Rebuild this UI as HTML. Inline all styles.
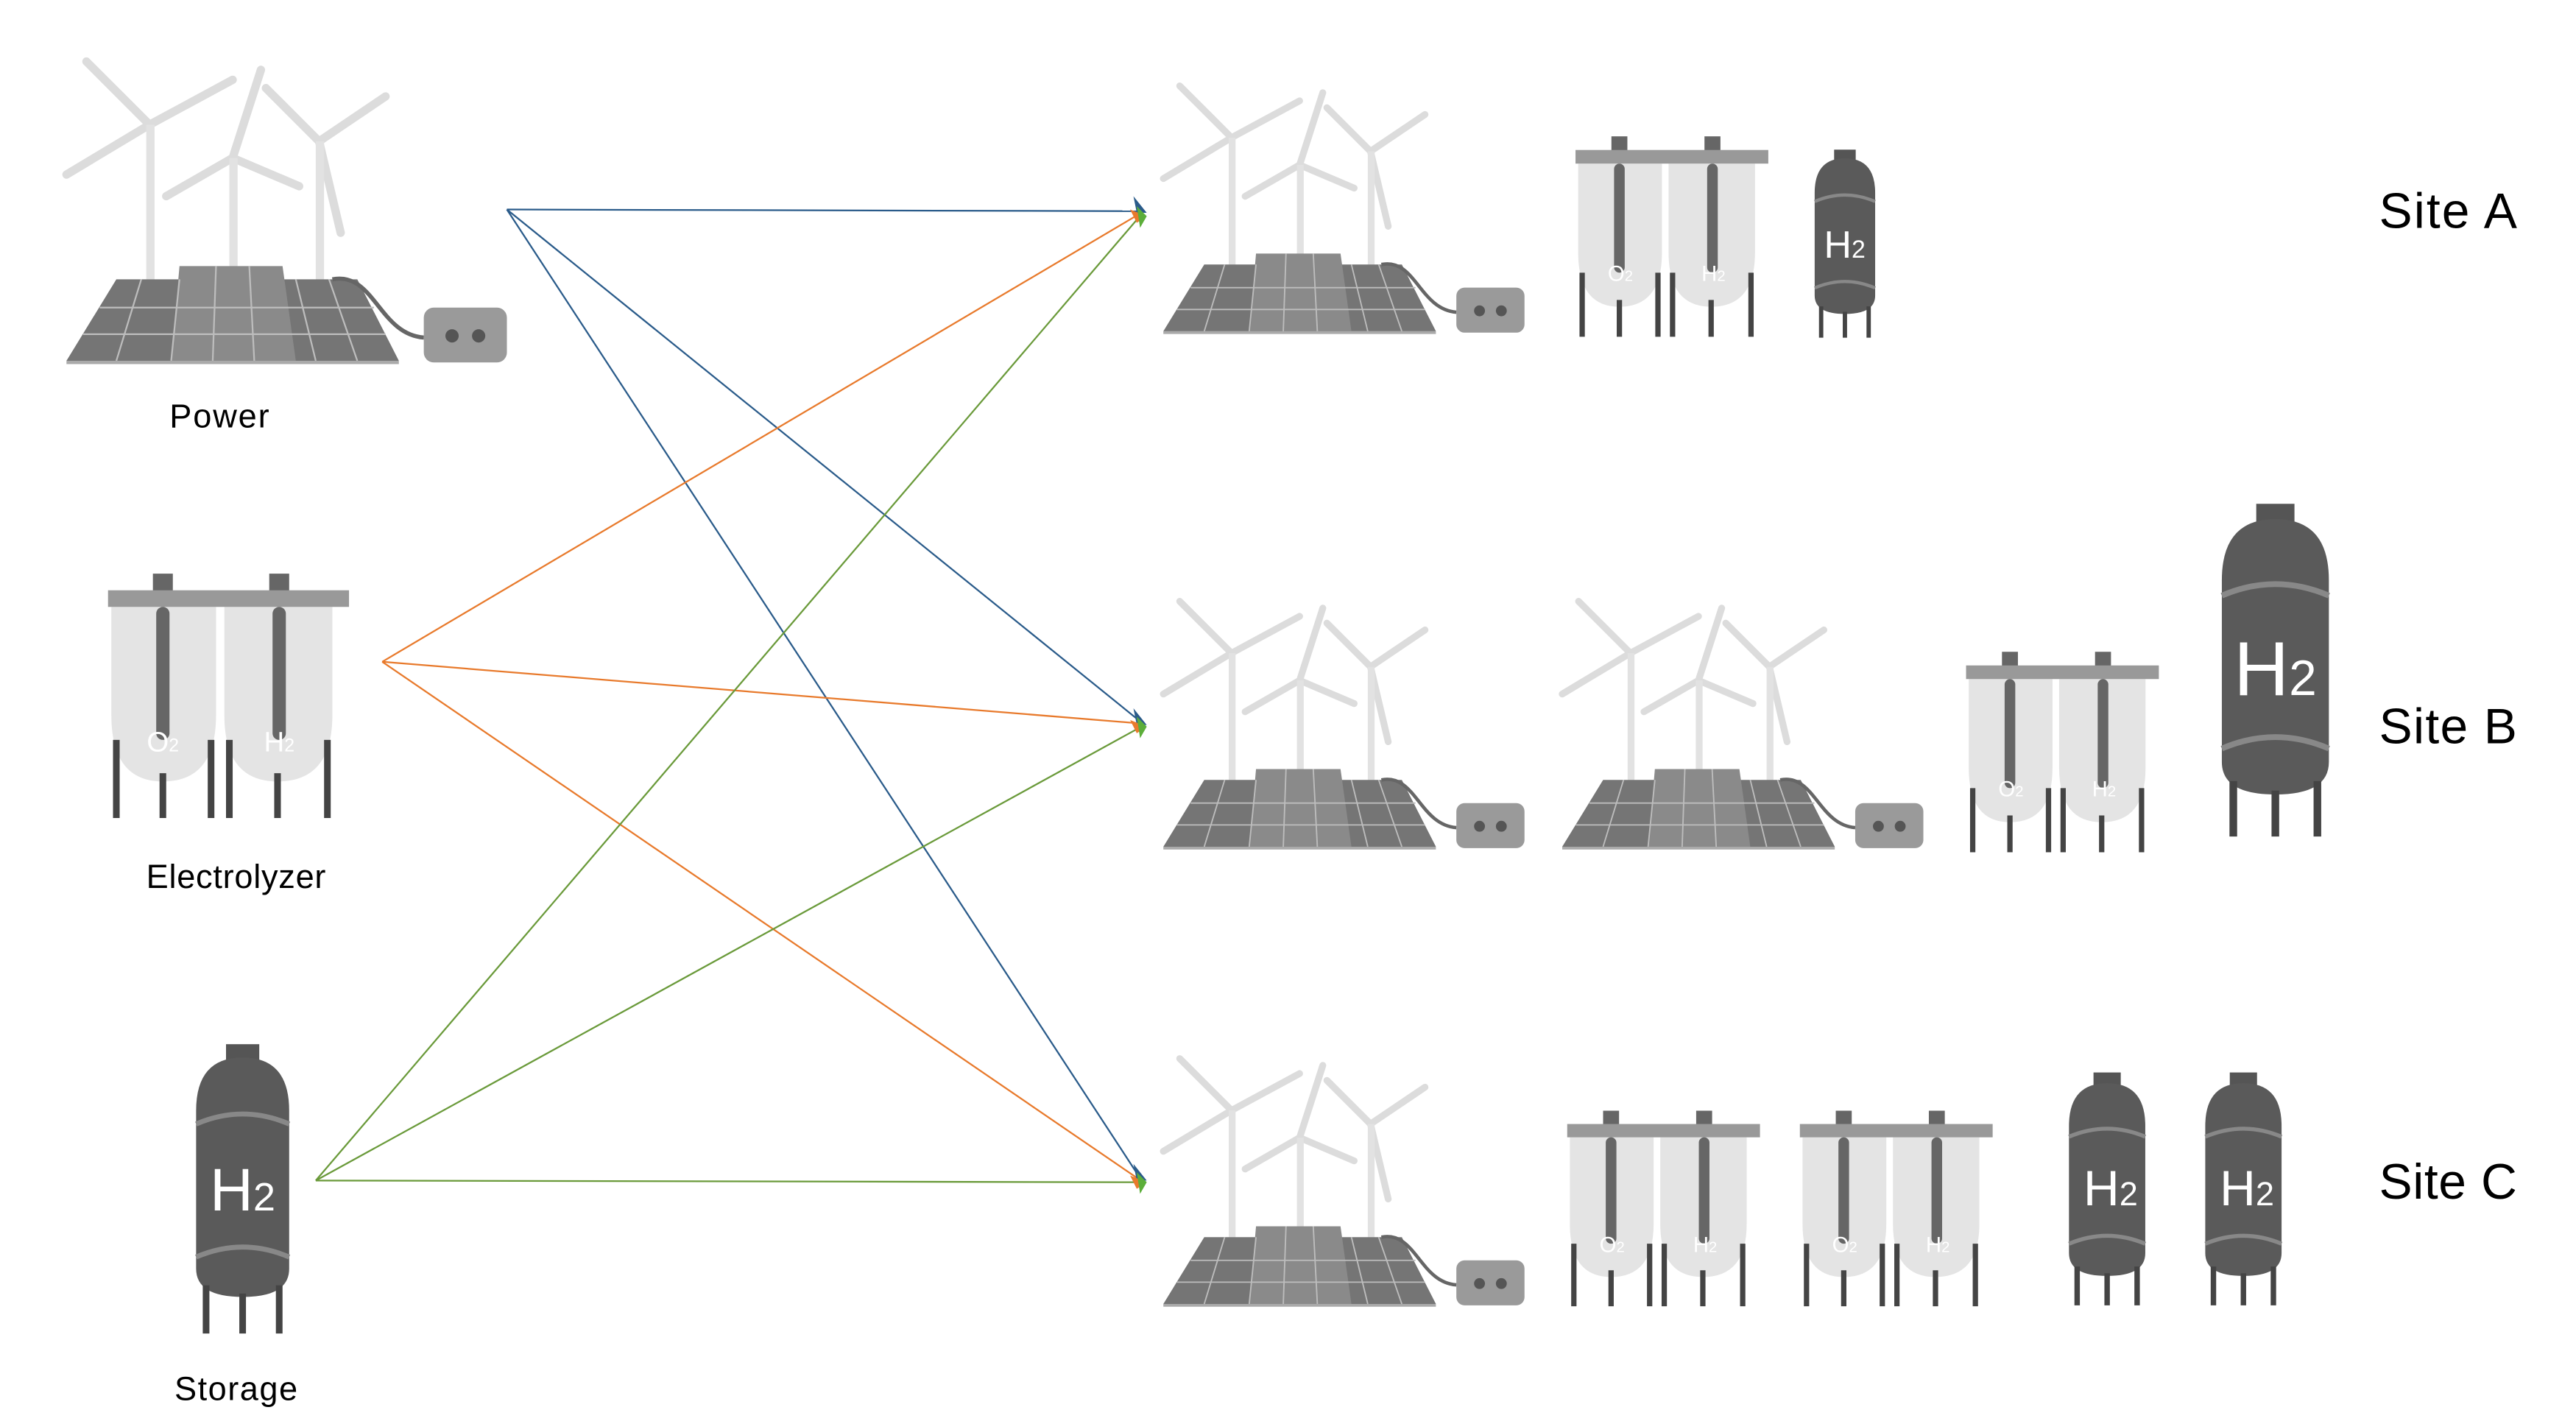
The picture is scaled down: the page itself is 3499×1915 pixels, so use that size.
<!DOCTYPE html>
<html><head><meta charset="utf-8"><style>
html,body{margin:0;padding:0;background:#fff;}
svg{display:block;}
text{font-family:"Liberation Sans Narrow","Liberation Sans",sans-serif;}
</style></head><body>
<svg width="3499" height="1915" viewBox="0 0 1550 848" preserveAspectRatio="none" xmlns="http://www.w3.org/2000/svg">
<defs>
<g id="pw">
  <g stroke="#dcdcdc" stroke-width="5" stroke-linecap="round">
    <line x1="50" y1="40" x2="12" y2="2"/><line x1="50" y1="40" x2="100" y2="13"/><line x1="50" y1="40" x2="0" y2="70"/>
    <line x1="100" y1="60" x2="117" y2="7"/><line x1="100" y1="60" x2="140" y2="77"/><line x1="100" y1="60" x2="60" y2="83"/>
    <line x1="152" y1="50" x2="120" y2="18"/><line x1="152" y1="50" x2="192" y2="23"/><line x1="152" y1="50" x2="165" y2="105"/>
  </g>
  <rect x="48" y="40" width="5" height="95" fill="#e2e2e2"/>
  <rect x="98" y="60" width="5" height="75" fill="#e2e2e2"/>
  <rect x="150" y="50" width="5" height="85" fill="#e2e2e2"/>
  <polygon points="0,182 30,133 175,133 200,182" fill="#757575"/>
  <polygon points="68,125 130,125 138,182 63,182" fill="#8a8a8a"/>
  <g stroke="#bdbdbd" stroke-width="1">
    <line x1="20" y1="150" x2="185" y2="150"/><line x1="10" y1="166" x2="192" y2="166"/>
    <line x1="45" y1="133" x2="30" y2="182"/><line x1="68" y1="133" x2="63" y2="182"/><line x1="90" y1="125" x2="88" y2="182"/>
    <line x1="110" y1="125" x2="113" y2="182"/><line x1="138" y1="133" x2="150" y2="182"/><line x1="158" y1="133" x2="175" y2="182"/>
  </g>
  <line x1="0" y1="183" x2="200" y2="183" stroke="#aaa" stroke-width="2"/>
  <path d="M160,133 C185,128 188,166 215,168" stroke="#666" stroke-width="2.5" fill="none"/>
  <rect x="215" y="150" width="50" height="33" rx="6" fill="#9a9a9a"/>
  <circle cx="232" cy="167" r="4" fill="#555"/><circle cx="248" cy="167" r="4" fill="#555"/>
</g>
<g id="el">
  <rect x="27" y="0" width="12" height="12" fill="#666"/><rect x="97" y="0" width="12" height="12" fill="#666"/>
  <path d="M2,20 H65 V85 Q65,125 33,125 Q2,125 2,85 Z" fill="#e4e4e4"/>
  <path d="M70,20 H135 V85 Q135,125 102,125 Q70,125 70,85 Z" fill="#e4e4e4"/>
  <rect x="0" y="10" width="145" height="10" fill="#999"/>
  <rect x="29" y="20" width="8" height="80" rx="4" fill="#666"/><rect x="99" y="20" width="8" height="80" rx="4" fill="#666"/>
  <g stroke="#444" stroke-width="4">
    <line x1="5" y1="100" x2="5" y2="147"/><line x1="33" y1="120" x2="33" y2="147"/><line x1="62" y1="100" x2="62" y2="147"/>
    <line x1="73" y1="100" x2="73" y2="147"/><line x1="102" y1="120" x2="102" y2="147"/><line x1="132" y1="100" x2="132" y2="147"/>
  </g>
</g>
<g id="tk">
  <rect x="24" y="0" width="20" height="12" fill="#555"/>
  <path d="M6,40 Q6,8 34,8 Q62,8 62,40 V135 Q62,152 34,152 Q6,152 6,135 Z" fill="#5a5a5a"/>
  <path d="M6,48 Q34,36 62,48 M6,128 Q34,116 62,128" stroke="#888" stroke-width="3" fill="none"/>
  <g stroke="#444" stroke-width="4"><line x1="12" y1="145" x2="12" y2="174"/><line x1="34" y1="150" x2="34" y2="174"/><line x1="56" y1="145" x2="56" y2="174"/></g>
</g>
</defs>

<g fill="none" stroke-width="1">
  <g stroke="#2a5b8a"><line x1="305" y1="126" x2="685" y2="127"/><line x1="305" y1="126" x2="685" y2="433"/><line x1="305" y1="126" x2="685" y2="707"/></g>
  <g stroke="#e87a2c"><line x1="230" y1="398" x2="685" y2="129"/><line x1="230" y1="398" x2="685" y2="435"/><line x1="230" y1="398" x2="685" y2="709"/></g>
  <g stroke="#6a9a3a"><line x1="190" y1="710" x2="685" y2="131"/><line x1="190" y1="710" x2="685" y2="438"/><line x1="190" y1="710" x2="685" y2="711"/></g>
</g>
<g>
  <polygon points="690,128 682,118 684,128" fill="#2a5b8a"/><polygon points="690,130 680,126 684,134" fill="#e87a2c"/><polygon points="690,130 684,124 686,137" fill="#5cae3a"/>
  <polygon points="690,436 682,426 684,436" fill="#2a5b8a"/><polygon points="690,437 680,433 684,441" fill="#e87a2c"/><polygon points="690,437 684,431 686,444" fill="#5cae3a"/>
  <polygon points="690,710 682,700 684,710" fill="#2a5b8a"/><polygon points="690,711 680,707 684,715" fill="#e87a2c"/><polygon points="690,711 684,705 686,718" fill="#5cae3a"/>
</g>

<use href="#pw" transform="translate(40,35)"/>
<use href="#el" transform="translate(65,345)"/>
<text x="98" y="452" font-size="17" fill="#fff" text-anchor="middle">O<tspan font-size="11">2</tspan></text>
<text x="168" y="452" font-size="17" fill="#fff" text-anchor="middle">H<tspan font-size="11">2</tspan></text>
<use href="#tk" transform="translate(112,628)"/>
<text x="146" y="728" font-size="36" fill="#fff" text-anchor="middle">H<tspan font-size="24">2</tspan></text>
<text x="132" y="257" font-size="20" text-anchor="middle" textLength="60">Power</text>
<text x="142" y="534" font-size="20" text-anchor="middle" textLength="108">Electrolyzer</text>
<text x="142" y="842" font-size="20" text-anchor="middle" textLength="74">Storage</text>

<use href="#pw" transform="translate(700,50) scale(0.82)"/>
<use href="#el" transform="translate(948,82) scale(0.8,0.82)"/>
<text x="975" y="169" font-size="13" fill="#fff" text-anchor="middle">O<tspan font-size="9">2</tspan></text>
<text x="1031" y="169" font-size="13" fill="#fff" text-anchor="middle">H<tspan font-size="9">2</tspan></text>
<use href="#tk" transform="translate(1088,90) scale(0.65)"/>
<text x="1110" y="155" font-size="23" fill="#fff" text-anchor="middle">H<tspan font-size="15">2</tspan></text>
<text x="1473" y="137" font-size="30" text-anchor="middle" textLength="83">Site A</text>

<use href="#pw" transform="translate(700,360) scale(0.82)"/>
<use href="#pw" transform="translate(940,360) scale(0.82)"/>
<use href="#el" transform="translate(1183,392) scale(0.8,0.82)"/>
<text x="1210" y="479" font-size="13" fill="#fff" text-anchor="middle">O<tspan font-size="9">2</tspan></text>
<text x="1266" y="479" font-size="13" fill="#fff" text-anchor="middle">H<tspan font-size="9">2</tspan></text>
<use href="#tk" transform="translate(1330,303) scale(1.15)"/>
<text x="1369" y="418" font-size="46" fill="#fff" text-anchor="middle">H<tspan font-size="30">2</tspan></text>
<text x="1473" y="447" font-size="30" text-anchor="middle" textLength="83">Site B</text>

<use href="#pw" transform="translate(700,635) scale(0.82)"/>
<use href="#el" transform="translate(943,668) scale(0.8,0.8)"/>
<text x="970" y="753" font-size="13" fill="#fff" text-anchor="middle">O<tspan font-size="9">2</tspan></text>
<text x="1026" y="753" font-size="13" fill="#fff" text-anchor="middle">H<tspan font-size="9">2</tspan></text>
<use href="#el" transform="translate(1083,668) scale(0.8,0.8)"/>
<text x="1110" y="753" font-size="13" fill="#fff" text-anchor="middle">O<tspan font-size="9">2</tspan></text>
<text x="1166" y="753" font-size="13" fill="#fff" text-anchor="middle">H<tspan font-size="9">2</tspan></text>
<use href="#tk" transform="translate(1240,645) scale(0.82,0.805)"/>
<text x="1270" y="725" font-size="30" fill="#fff" text-anchor="middle">H<tspan font-size="20">2</tspan></text>
<use href="#tk" transform="translate(1322,645) scale(0.82,0.805)"/>
<text x="1352" y="725" font-size="30" fill="#fff" text-anchor="middle">H<tspan font-size="20">2</tspan></text>
<text x="1473" y="721" font-size="30" text-anchor="middle" textLength="83">Site C</text>
</svg>
</body></html>
